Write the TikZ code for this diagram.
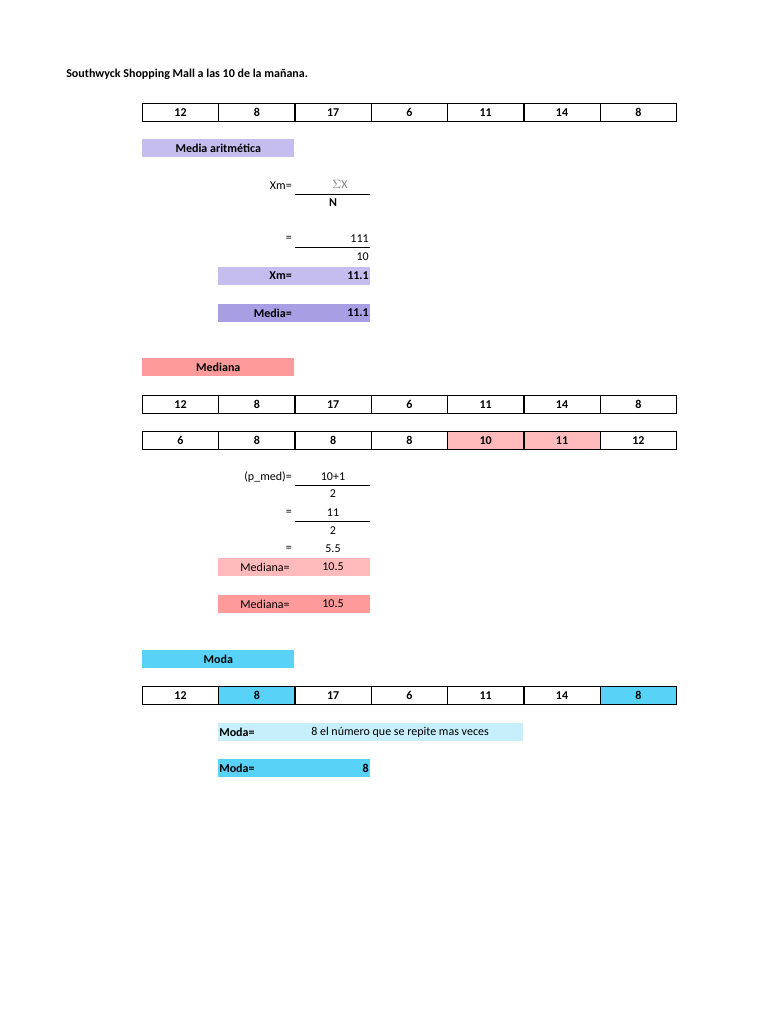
\documentclass[tikz,border=0pt]{standalone}
\usepackage{fontspec}
\setmainfont{Carlito}
\usepackage{xcolor}
\definecolor{lp}{HTML}{C5BDEF}
\definecolor{dp}{HTML}{A89EE4}
\definecolor{lr}{HTML}{FFBBBB}
\definecolor{dr}{HTML}{FF9A9A}
\definecolor{lc}{HTML}{C6EFFB}
\definecolor{dc}{HTML}{58D3F7}
\tikzset{txt/.style={font=\fontsize{9}{10}\selectfont\bfseries,inner sep=0pt},
  cell/.style={draw,line width=0.8pt,minimum width=57pt,minimum height=13.5pt,inner sep=0pt,font=\fontsize{9}{10}\selectfont\bfseries}}
\newcommand{\datarow}[3]{% y, values, fill list index
  \foreach \v [count=\i] in {#2} {
    \node[cell,anchor=north west] (#3\i) at ({142+76.3*(\i-1)},#1) {\v};
  }
}
\begin{document}
\begin{tikzpicture}[x=0.75pt,y=-0.75pt]
  \useasboundingbox (0,0) rectangle (768,1024);
  \node[txt,anchor=west] (title) at (66,74) {Southwyck Shopping Mall a las 10 de la mañana.};
  % datos
  \datarow{103}{12,8,17,6,11,14,8}{a}
  \fill[white] (676.5,100) rectangle (680,125);
  % media
  \node[txt,fill=lp,minimum width=114pt,minimum height=13.5pt,anchor=north west] (media) at (142,139) {Media aritmética};
  \node[txt,anchor=east] (xm) at (292,186) {\normalfont Xm=};
  \node[txt,text=gray] (sum) at (340,184) {\normalfont $\Sigma$X};
  \draw (295,194) -- (370,194);
  \node[txt] (n) at (333,203) {N};
  \node[txt,anchor=east] (eq1) at (292,239) {\normalfont =};
  \node[txt,anchor=east] (s) at (369,239) {\normalfont 111};
  \draw (295,247) -- (370,247);
  \node[txt,anchor=east] (d) at (369,257) {\normalfont 10};
  \fill[lp] (218,267) rectangle (370,285);
  \node[txt,anchor=east] at (292,276) {Xm=};
  \node[txt,anchor=east] at (369,276) {11.1};
  \fill[dp] (218,304) rectangle (370,322);
  \node[txt,anchor=east] at (292,313) {Media=};
  \node[txt,anchor=east] at (369,313) {11.1};
  % mediana
  \node[txt,fill=dr,minimum width=114pt,minimum height=13.5pt,anchor=north west] (mediana) at (142,358) {Mediana};
  \datarow{395}{12,8,17,6,11,14,8}{b}
  \fill[white] (676.5,392) rectangle (680,416);
  \datarow{431}{6,8,8,8,10,11,12}{c}
  \foreach \k in {5,6} \node[cell,fill=lr] at (c\k) {\ifnum\k=5 10\else 11\fi};
  \node[txt,anchor=east] at (292,477) {\normalfont (p\_med)=};
  \node[txt] at (333,477) {\normalfont 10+1};
  \draw (295,485) -- (370,485);
  \node[txt] at (333,494) {\normalfont 2};
  \node[txt,anchor=east] at (292,513) {\normalfont =};
  \node[txt] at (333,513) {\normalfont 11};
  \draw (295,521) -- (370,521);
  \node[txt] at (333,531) {\normalfont 2};
  \node[txt,anchor=east] at (292,549) {\normalfont =};
  \node[txt] at (333,549) {\normalfont 5.5};
  \fill[lr] (218,558) rectangle (370,576);
  \node[txt] at (265,567) {\normalfont Mediana=};
  \node[txt] at (333,567) {\normalfont 10.5};
  \fill[dr] (218,595) rectangle (370,613);
  \node[txt] at (265,604) {\normalfont Mediana=};
  \node[txt] at (333,604) {\normalfont 10.5};
  % moda
  \node[txt,fill=dc,minimum width=114pt,minimum height=13.5pt,anchor=north west] (moda) at (142,650) {Moda};
  \datarow{686}{12,8,17,6,11,14,8}{m}
  \node[cell,fill=dc] at (m2) {8};
  \node[cell,fill=dc] at (m7) {8};
  \fill[lc] (218,723) rectangle (523,741);
  \node[txt,anchor=west] at (219,732) {Moda=};
  \node[txt] at (400,732) {\normalfont 8 el número que se repite mas veces};
  \fill[dc] (218,759) rectangle (370,777);
  \node[txt,anchor=west] at (219,768) {Moda=};
  \node[txt,anchor=east] at (369,768) {8};
\end{tikzpicture}
\end{document}
